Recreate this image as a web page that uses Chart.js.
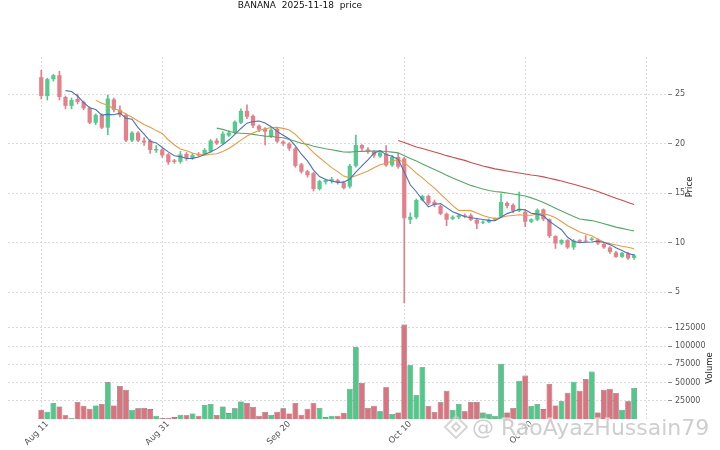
<!DOCTYPE html>
<html>
<head>
<meta charset="utf-8">
<script src="https://cdn.jsdelivr.net/npm/chart.js@4.4.1/dist/chart.umd.min.js"></script>
<style>
  html, body { margin: 0; padding: 0; background: #fff; }
  #wrap { width: 720px; height: 450px; position: relative; }
</style>
</head>
<body>
<div id="wrap"><canvas id="chart"></canvas></div>
<script>
// daily candles, Aug 11 .. Nov 17 (index 0 = Aug 11)
const opens = [
  26.7, 24.8, 26.5, 26.9, 24.7, 23.8, 24.5, 24.2, 23.6, 22.1,
  22.9, 21.6, 24.45, 23.4, 22.9, 20.3, 21.1, 20.3, 20.3, 19.3,
  19.4, 18.9, 18.3, 18.15, 18.95, 18.5, 18.95, 18.95, 19.2, 20.3,
  20.0, 20.8, 21.1, 22.1, 23.3, 22.8, 21.8, 21.5, 20.75, 21.5,
  20.2, 20.0, 19.5, 17.9, 17.2, 17.0, 15.4, 16.1, 16.2, 16.3,
  16.05, 15.65, 17.75, 19.85, 19.4, 19.2, 18.7, 19.0, 17.8, 18.65,
  18.5, 12.3, 12.55, 14.3, 14.7, 14.1, 13.7, 12.9, 12.4, 12.55,
  12.75, 12.75, 12.3, 12.0, 12.05, 12.3, 12.6, 14.0, 13.8, 13.2,
  13.1, 12.1, 12.3, 13.35, 12.35, 10.65, 9.9, 10.25, 9.5, 10.25,
  10.2, 10.25, 10.3, 9.85, 9.5, 9.0, 8.55, 8.9, 8.45
];
const highs = [
  27.4, 26.6, 27.0, 27.3, 24.8, 24.6, 25.0, 24.3, 23.7, 23.0,
  23.0, 24.9, 24.6, 23.8, 23.0, 21.2, 21.2, 20.6, 20.4, 19.8,
  19.5, 19.0, 18.4, 19.2, 19.1, 19.0, 19.1, 19.5, 20.4, 20.5,
  21.2, 21.3, 22.3, 23.5, 23.9, 22.9, 21.9, 21.6, 21.5, 21.6,
  20.3, 20.1, 19.6, 18.0, 17.3, 17.1, 16.3, 16.4, 16.6, 16.4,
  16.2, 17.9, 20.85, 19.9, 19.6, 19.3, 19.2, 19.8, 18.8, 19.0,
  18.6, 13.0, 14.4, 14.8, 14.8, 14.3, 13.8, 13.0, 12.7, 12.8,
  12.9, 12.9, 12.4, 12.2, 12.4, 12.5, 14.9, 14.1, 13.9, 15.1,
  13.3, 12.4, 13.4, 13.4, 12.4, 10.7, 10.3, 10.3, 10.3, 10.3,
  10.7, 10.5, 10.4, 9.9, 9.6, 9.1, 9.0, 9.0, 8.8
];
const lows = [
  24.5, 24.4, 26.3, 24.4, 23.5, 23.5, 24.0, 23.4, 22.0, 21.9,
  21.5, 20.9, 23.2, 22.7, 20.2, 20.2, 20.2, 19.8, 19.0, 19.1,
  18.6, 17.9, 18.0, 18.0, 18.3, 18.4, 18.7, 18.9, 19.1, 19.9,
  19.9, 20.7, 21.0, 22.0, 22.5, 21.6, 21.2, 19.85, 20.6, 20.1,
  19.8, 19.3, 17.6, 17.0, 16.6, 15.2, 15.3, 15.9, 16.0, 15.9,
  15.4, 15.5, 17.6, 19.3, 19.0, 18.6, 18.6, 17.7, 17.7, 17.5,
  3.9, 11.9, 12.4, 14.2, 13.8, 13.6, 12.8, 11.7, 12.3, 12.4,
  12.5, 12.2, 11.4, 11.9, 12.0, 12.2, 12.5, 13.5, 13.0, 13.1,
  11.6, 12.0, 12.2, 12.2, 10.5, 9.4, 9.8, 9.4, 9.3, 10.0,
  10.0, 10.2, 9.8, 9.4, 8.9, 8.5, 8.5, 8.3, 8.3
];
const closes = [
  24.8, 26.5, 26.9, 24.7, 23.8, 24.4, 24.2, 23.55, 22.1, 22.9,
  21.6, 24.55, 23.4, 22.9, 20.3, 21.1, 20.3, 20.1, 19.35, 19.45,
  18.8, 18.1, 18.15, 18.9, 18.5, 18.85, 18.8, 19.35, 20.3, 20.0,
  21.0, 21.1, 22.2, 23.3, 22.7, 21.8, 21.4, 21.2, 21.4, 20.2,
  20.0, 19.5, 17.75, 17.15, 16.8, 15.4, 16.2, 16.3, 16.4, 16.1,
  15.5, 17.75, 19.85, 19.5, 19.2, 18.8, 19.1, 17.8, 18.65, 17.65,
  12.45, 12.6, 14.3, 14.7, 13.95, 13.8, 12.9, 12.3, 12.6, 12.75,
  12.6, 12.3, 11.9, 12.1, 12.3, 12.4, 14.1, 13.7, 13.2, 13.4,
  12.1, 12.35, 13.3, 12.35, 10.65, 9.9, 10.25, 9.5, 10.2, 10.1,
  10.1, 10.4, 9.9, 9.5, 9.05, 8.55, 8.95, 8.4, 8.7
];
const volumes = [
  12800, 10000, 22000, 17300, 5000, 1500, 23400, 18300, 14200, 18700,
  20600, 50400, 18700, 45300, 40300, 12800, 14600, 15100, 13700, 4500,
  1400, 1400, 2700, 5900, 5000, 7700, 4500, 19200, 20600, 5500,
  17300, 8200, 14600, 24200, 22000, 16500, 4500, 9600, 5500, 10000,
  14600, 7700, 22000, 5900, 14200, 21500, 15100, 2700, 4500, 4500,
  8700, 41700, 98500, 49500, 15100, 18300, 10500, 43500, 6900, 9100,
  129700, 73700, 32500, 71000, 18300, 9600, 22900, 38900, 12800, 20600,
  10500, 23400, 23400, 9100, 7300, 4500, 76000, 9100, 15100, 52700,
  59600, 18300, 20600, 13700, 48100, 18700, 24300, 36200, 51300, 38900,
  55000, 65100, 9100, 40300, 41700, 35800, 12800, 24300, 42600
];
const tickIndex = [0, 20, 40, 60, 80, 100];
const tickLabels = ['Aug 11', 'Aug 31', 'Sep 20', 'Oct 10', 'Oct 30', ''];
const priceTicks = [5, 10, 15, 20, 25];
const volumeTicks = [25000, 50000, 75000, 100000, 125000];
const maWindows = [5, 10, 30, 60];
const maColors = ['#4c72b0', '#e39c48', '#55a868', '#c44e52'];

const UP = '#55c98e';
const DOWN = '#e3808b';
const UP_VOL = '#4ec98a';
const DOWN_VOL = '#dc7480';

function movingAverage(values, n) {
  return values.map((v, i) => {
    if (i < n - 1) return null;
    let s = 0;
    for (let k = i - n + 1; k <= i; k++) s += values[k];
    return s / n;
  });
}

const isUp = closes.map((c, i) => c >= opens[i]);
const candleColors = isUp.map(u => (u ? UP : DOWN));
const volColors = isUp.map(u => (u ? UP_VOL : DOWN_VOL));

const wickData = highs.map((h, i) => ({ x: i, y: [lows[i], h] }));
const bodyData = opens.map((o, i) => ({ x: i, y: [o, closes[i]] }));
const volData = volumes.map((v, i) => ({ x: i, y: v }));

const maSets = maWindows.map((n, k) => ({
  type: 'line',
  label: 'MA' + n,
  data: movingAverage(closes, n).map((v, i) => ({ x: i, y: v })),
  borderColor: maColors[k],
  borderWidth: 1.1,
  pointRadius: 0,
  tension: 0,
  yAxisID: 'y',
  order: 0
}));

// extra text: title, matplotlib-style axis labels, watermark
const textPlugin = {
  id: 'texts',
  afterDraw(chart) {
    const { ctx } = chart;
    ctx.save();
    ctx.fillStyle = '#111';
    ctx.font = '9px "DejaVu Sans"';
    ctx.textAlign = 'center';
    ctx.textBaseline = 'middle';
    ctx.fillText('BANANA  2025-11-18  price', 300, 6);

    ctx.font = '8.5px "DejaVu Sans"';
    ctx.fillStyle = '#222';
    ctx.save();
    ctx.translate(690, 187);
    ctx.rotate(-Math.PI / 2);
    ctx.fillText('Price', 0, 0);
    ctx.restore();
    ctx.save();
    ctx.translate(710, 368);
    ctx.rotate(-Math.PI / 2);
    ctx.fillText('Volume', 0, 0);
    ctx.restore();

    // watermark logo + handle
    ctx.globalAlpha = 0.75;
    ctx.strokeStyle = '#c8c8c8';
    ctx.lineWidth = 2;
    const cx = 456, cy = 427, r = 11;
    ctx.beginPath();
    ctx.moveTo(cx, cy - r); ctx.lineTo(cx + r, cy); ctx.lineTo(cx, cy + r); ctx.lineTo(cx - r, cy); ctx.closePath();
    ctx.stroke();
    ctx.beginPath();
    ctx.moveTo(cx, cy - 4); ctx.lineTo(cx + 4, cy); ctx.lineTo(cx, cy + 4); ctx.lineTo(cx - 4, cy); ctx.closePath();
    ctx.stroke();
    ctx.font = '22px "DejaVu Sans"';
    ctx.textAlign = 'left';
    ctx.textBaseline = 'alphabetic';
    ctx.lineWidth = 3;
    ctx.strokeStyle = 'rgba(255,255,255,0.8)';
    ctx.strokeText('@ RaoAyazHussain79', 472, 435);
    ctx.fillStyle = '#bdbdbd';
    ctx.fillText('@ RaoAyazHussain79', 472, 435);
    ctx.restore();
  }
};

const gridColor = '#dcdcdc';

new Chart(document.getElementById('chart'), {
  type: 'bar',
  data: {
    datasets: [
      ...maSets,
      {
        label: 'wick',
        data: wickData,
        backgroundColor: candleColors,
        barThickness: 1,
        grouped: false,
        yAxisID: 'y',
        order: 2
      },
      {
        label: 'body',
        data: bodyData,
        backgroundColor: candleColors,
        barPercentage: 0.7,
        categoryPercentage: 1,
        grouped: false,
        yAxisID: 'y',
        order: 1
      },
      {
        label: 'volume',
        data: volData,
        backgroundColor: volColors,
        borderColor: 'rgba(50,50,50,0.75)',
        borderWidth: 0.6,
        barPercentage: 0.95,
        categoryPercentage: 1,
        grouped: false,
        yAxisID: 'yv',
        order: 1
      }
    ]
  },
  options: {
    responsive: true,
    maintainAspectRatio: false,
    animation: false,
    layout: { padding: { top: 57, left: 8, right: 0, bottom: 0 } },
    plugins: {
      legend: { display: false },
      tooltip: { enabled: false },
      title: { display: false }
    },
    scales: {
      x: {
        type: 'linear',
        offset: false,
        min: -5.5,
        max: 103.6,
        afterBuildTicks: s => { s.ticks = tickIndex.map(v => ({ value: v })); },
        afterFit: s => { s.height = 31; },
        grid: { color: gridColor, drawTicks: false, offset: false },
        border: { display: false, dash: [2, 2] },
        ticks: {
          autoSkip: false,
          minRotation: 45,
          maxRotation: 45,
          padding: 0,
          labelOffset: 6,
          color: '#555',
          font: { family: 'DejaVu Sans', size: 8.5 },
          callback: v => tickLabels[tickIndex.indexOf(v)] || ''
        }
      },
      y: {
        position: 'right',
        stack: 'panels',
        stackWeight: 258,
        min: 2.68,
        max: 28.74,
        afterBuildTicks: s => { s.ticks = priceTicks.map(v => ({ value: v })); },
        afterFit: s => { s.width = 52; },
        grid: { color: gridColor, tickColor: '#888', tickLength: 4 },
        border: { display: false, dash: [2, 2] },
        ticks: { padding: 3, color: '#555', font: { family: 'DejaVu Sans', size: 8 } }
      },
      yv: {
        position: 'right',
        stack: 'panels',
        stackWeight: 104,
        min: 0,
        max: 142857,
        afterBuildTicks: s => { s.ticks = volumeTicks.map(v => ({ value: v })); },
        afterFit: s => { s.width = 52; },
        grid: { color: gridColor, tickColor: '#888', tickLength: 4 },
        border: { display: false, dash: [2, 2] },
        ticks: {
          padding: 3, color: '#555', font: { family: 'DejaVu Sans', size: 8 },
          callback: v => String(v)
        }
      }
    }
  },
  plugins: [textPlugin]
});
</script>
</body>
</html>
